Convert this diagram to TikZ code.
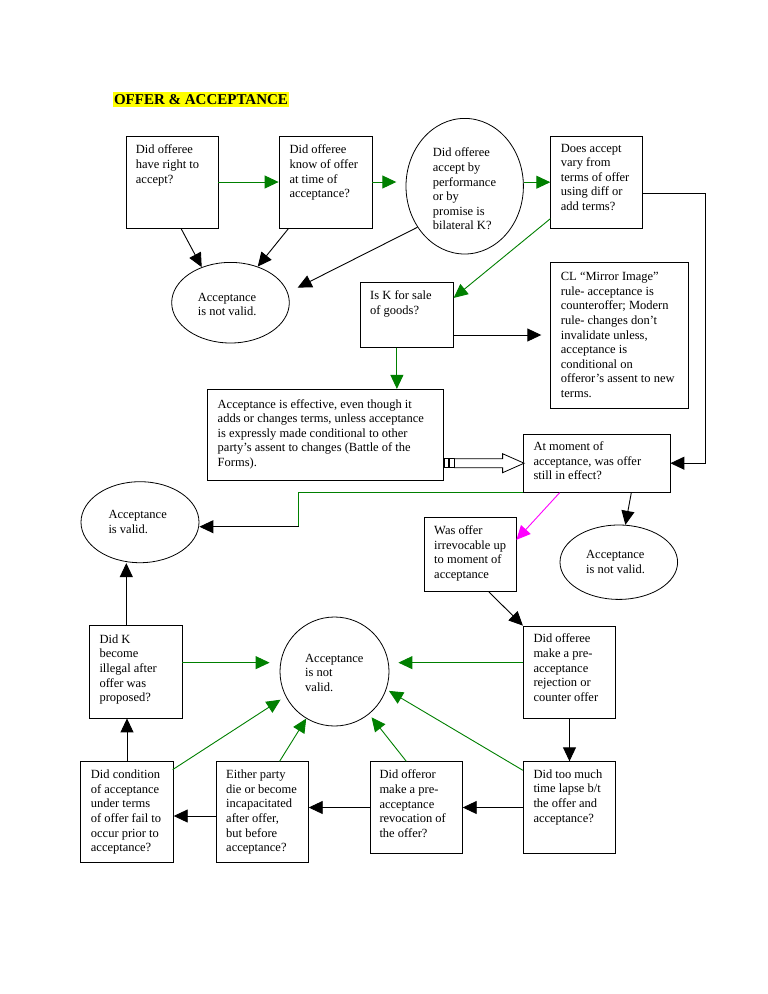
\documentclass[tikz,border=0pt]{standalone}
\usepackage{fontspec}
\setmainfont{Liberation Serif}
\usetikzlibrary{arrows.meta,calc,shapes.geometric}
\definecolor{ggreen}{RGB}{0,128,0}
\definecolor{mag}{RGB}{255,0,255}
\definecolor{hl}{RGB}{255,255,0}
\begin{document}
\begin{tikzpicture}[x=1pt,y=-1pt,
  bx/.style={draw=black, line width=0.8pt, rectangle, inner sep=0pt},
  el/.style={draw=black, line width=0.8pt, ellipse, inner sep=0pt},
  tx/.style={anchor=north west, inner sep=0pt, align=left, font=\fontsize{12.5}{14.6}\selectfont},
  arr/.style={line width=0.9pt, -{Triangle[length=14pt,width=13pt]}},
  barr/.style={arr, draw=black},
  garr/.style={arr, draw=ggreen},
  marr/.style={arr, draw=mag},
  hollow/.style={draw=black, line width=0.8pt, fill=white}
]
\fill[white] (0,0) rectangle (768,994);
\useasboundingbox (0,0) rectangle (768,994);

% title
\node[fill=hl, inner xsep=0.8pt, inner ysep=0pt, minimum height=15.6pt,
      font=\fontsize{15}{16}\selectfont\bfseries] (title) at (201,99.5) {OFFER \& ACCEPTANCE};

% nodes
\node[bx, minimum width=92pt, minimum height=92pt] (A) at (172,182) {};
\node[tx] (At) at (135.7,144.8) {Did offeree\\have right to\\accept?};

\node[bx, minimum width=93pt, minimum height=92pt] (B) at (325.5,182) {};
\node[tx] (Bt) at (289.3,144.8) {Did offeree\\know of offer\\at time of\\acceptance?};

\node[el, minimum width=117.4pt, minimum height=135.6pt] (C) at (464.7,186.2) {};
\node[tx] (Ct) at (432.7,147.8) {Did offeree\\accept by\\performance\\or by\\promise is\\bilateral K?};

\node[bx, minimum width=92pt, minimum height=92.3pt] (D) at (596.7,182.2) {};
\node[tx] (Dt) at (560.7,143.8) {Does accept\\vary from\\terms of offer\\using diff or\\add terms?};

\node[el, minimum width=117.6pt, minimum height=80.6pt] (E) at (230.5,302.7) {};
\node[tx] (Et) at (197.7,292.8) {Acceptance\\is not valid.};

\node[bx, minimum width=92.6pt, minimum height=64.6pt] (F) at (407,315) {};
\node[tx] (Ft) at (370,290.5) {Is K for sale\\of goods?};

\node[bx, minimum width=137.6pt, minimum height=145.6pt] (G) at (619.5,335.5) {};
\node[tx] (Gt) at (560.7,272.2) {CL “Mirror Image”\\rule- acceptance is\\counteroffer; Modern\\rule- changes don’t\\invalidate unless,\\acceptance is\\conditional on\\offeror’s assent to new\\terms.};

\node[bx, minimum width=236pt, minimum height=91.2pt] (H) at (325.5,434.9) {};
\node[tx] (Ht) at (217.5,399) {Acceptance is effective, even though it\\adds or changes terms, unless acceptance\\is expressly made conditional to other\\party’s assent to changes (Battle of the\\Forms).};

\node[bx, minimum width=147pt, minimum height=58.3pt] (I) at (596.5,463.2) {};
\node[tx] (It) at (533.3,441.5) {At moment of\\acceptance, was offer\\still in effect?};

\node[el, minimum width=118pt, minimum height=81pt] (J) at (140,522.2) {};
\node[tx] (Jt) at (108.3,510.5) {Acceptance\\is valid.};

\node[bx, minimum width=92pt, minimum height=73.8pt] (K) at (470,554.6) {};
\node[tx] (Kt) at (434,525.5) {Was offer\\irrevocable up\\to moment of\\acceptance};

\node[el, minimum width=117.6pt, minimum height=74.4pt] (L) at (618.8,562.2) {};
\node[tx] (Lt) at (586,550.5) {Acceptance\\is not valid.};

\node[bx, minimum width=92.7pt, minimum height=92.3pt] (M) at (135.65,671.85) {};
\node[tx] (Mt) at (99.3,634.5) {Did K\\become\\illegal after\\offer was\\proposed?};

\node[draw=black, line width=0.8pt, circle, inner sep=0pt, minimum size=109pt] (N) at (334.5,671.5) {};
\node[tx] (Nt) at (305,653.8) {Acceptance\\is not\\valid.};

\node[bx, minimum width=92.4pt, minimum height=92.3pt] (O) at (569.5,672.15) {};
\node[tx] (Ot) at (533.3,633.8) {Did offeree\\make a pre-\\acceptance\\rejection or\\counter offer};

\node[bx, minimum width=92.6pt, minimum height=101pt] (P) at (127,812.2) {};
\node[tx] (Pt) at (90.7,769.8) {Did condition\\of acceptance\\under terms\\of offer fail to\\occur prior to\\acceptance?};

\node[bx, minimum width=91.6pt, minimum height=101pt] (Q) at (262.5,812.2) {};
\node[tx] (Qt) at (226,769.8) {Either party\\die or become\\incapacitated\\after offer,\\but before\\acceptance?};

\node[bx, minimum width=92.3pt, minimum height=91.6pt] (R) at (416.15,807.5) {};
\node[tx] (Rt) at (379.3,769.8) {Did offeror\\make a pre-\\acceptance\\revocation of\\the offer?};

\node[bx, minimum width=92.4pt, minimum height=91.6pt] (S) at (569.5,807.5) {};
\node[tx] (St) at (533.3,769.5) {Did too much\\time lapse b/t\\the offer and\\acceptance?};

% helper coordinates
\coordinate (a1) at ($(A.south)+(9,0)$);
\coordinate (b1) at ($(B.south west)+(10,0)$);
\coordinate (d2) at ($(D.south west)+(0,-10)$);
\coordinate (f0) at ($(F.north east)+(0,15.6)$);
\coordinate (f1) at ($(F.east)+(0,20)$);
\coordinate (f2) at ($(F.south west)+(36.6,0)$);
\coordinate (d1) at ($(D.east)+(0,11)$);
\coordinate (jc) at (298.7,526.7);
\coordinate (i1) at ($(I.south west)+(37,0)$);
\coordinate (k0) at ($(K.north east)+(0,22.5)$);
\coordinate (i2) at ($(I.south west)+(108.7,0)$);
\coordinate (k1) at ($(K.south west)+(65.3,0)$);
\coordinate (o1) at ($(O.west)+(0,-9.5)$);
\coordinate (m2) at ($(M.east)+(0,-9.2)$);
\coordinate (m1) at ($(M.north west)+(37.4,0)$);
\coordinate (q1) at ($(Q.west)+(0,3.8)$);
\coordinate (p1) at ($(P.north east)+(-1,8.3)$);
\coordinate (q2) at ($(Q.north west)+(63.3,0)$);
\coordinate (r1) at ($(R.north west)+(36.7,0)$);
\coordinate (s1) at ($(S.north west)+(0,9)$);
\coordinate (hs) at (H.east |- I.west);

% connectors - top row
\draw[garr] (A.east) -- (B.west);
\draw[garr, shorten >=9.3pt] (B.east) -- (B.east -| C.west);
\draw[garr] (C.east |- D.west) -- (D.west);
\draw[barr] (a1) -- (E.129);
\draw[barr] (b1) -- (E.53);
\draw[barr, shorten >=11pt] (C.221) -- (E.10);
\draw[garr] (d2) -- (f0);
\draw[barr, shorten >=9pt] (f1) -- (f1 -| G.west);
\draw[garr] (f2) -- (f2 |- H.north);
\draw[barr] (d1) -- ++(62.3,0) |- (I.east);

% hollow arrow H -> I
\draw[hollow] (hs) ++(0,-4.5) rectangle ($(hs)+(4.5,4.5)$);
\draw[hollow] ($(hs)+(5.5,-4.5)$) rectangle ($(hs)+(10,4.5)$);
\draw[hollow] ($(hs)+(10.5,-4.5)$) -- ($(I.west)+(-20,-4.5)$) -- ($(I.west)+(-20,-9.5)$)
  -- ($(I.west)+(1.5,0)$) -- ($(I.west)+(-20,9.5)$) -- ($(I.west)+(-20,4.5)$)
  -- ($(hs)+(10.5,4.5)$) -- cycle;

% middle
\draw[ggreen, line width=0.9pt] (I.south west) -| (jc);
\draw[barr] (jc) -- (jc -| J.east);
\draw[marr] (i1) -- (k0);
\draw[barr] (i2) -- (L.80);
\draw[barr] (k1) -- (O.north west);

% bottom
\draw[garr, shorten >=9pt] (o1) -- (o1 -| N.east);
\draw[garr, shorten >=10pt] (m2) -- (m2 -| N.west);
\draw[barr] (m1) -- (m1 |- J.south);
\draw[barr] (P.north) -- (P.north |- M.south);
\draw[barr] (O.south) -- (S.north);
\draw[barr] (S.west) -- (R.east);
\draw[barr] (R.west) -- (R.west -| Q.east);
\draw[barr] (q1) -- (q1 -| P.east);
\draw[garr, shorten >=6pt] (p1) -- (N.207);
\draw[garr] (q2) -- (N.239);
\draw[garr, shorten >=4pt] (r1) -- (N.309);
\draw[garr, shorten >=3pt] (s1) -- (N.341);
\end{tikzpicture}
\end{document}
